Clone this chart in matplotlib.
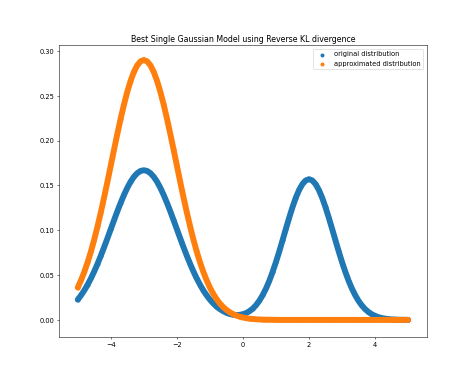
import numpy as np
import matplotlib
matplotlib.use('Agg')
import matplotlib.pyplot as plt

# x grid of the sampled points
x_vals = np.linspace(-5, 5, 101)

# original distribution (two bumps)
original = [
    0.0226, 0.0275, 0.0330, 0.0394, 0.0464, 0.0542, 0.0627, 0.0717, 0.0813, 0.0912,
    0.1013, 0.1114, 0.1213, 0.1307, 0.1395, 0.1474, 0.1542, 0.1597, 0.1637, 0.1662,
    0.1670, 0.1662, 0.1637, 0.1597, 0.1542, 0.1474, 0.1395, 0.1307, 0.1213, 0.1114,
    0.1013, 0.0912, 0.0813, 0.0717, 0.0627, 0.0542, 0.0464, 0.0394, 0.0330, 0.0275,
    0.0226, 0.0185, 0.0149, 0.0121, 0.0098, 0.0079, 0.0066, 0.0058, 0.0054, 0.0056,
    0.0064, 0.0077, 0.0098, 0.0127, 0.0166, 0.0216, 0.0278, 0.0351, 0.0437, 0.0537,
    0.0646, 0.0764, 0.0889, 0.1016, 0.1140, 0.1257, 0.1362, 0.1449, 0.1515, 0.1556,
    0.1570, 0.1556, 0.1515, 0.1449, 0.1362, 0.1257, 0.1140, 0.1016, 0.0889, 0.0764,
    0.0645, 0.0536, 0.0436, 0.0349, 0.0275, 0.0212, 0.0161, 0.0120, 0.0088, 0.0063,
    0.0045, 0.0031, 0.0021, 0.0014, 0.0009, 0.0006, 0.0004, 0.0002, 0.0001, 0.0001,
    0.0000,
]

# single gaussian fitted with reverse KL
approximated = [
    0.0361, 0.0443, 0.0537, 0.0644, 0.0764, 0.0898, 0.1045, 0.1203, 0.1370, 0.1544,
    0.1723, 0.1902, 0.2078, 0.2247, 0.2404, 0.2546, 0.2668, 0.2767, 0.2840, 0.2885,
    0.2900, 0.2885, 0.2840, 0.2767, 0.2668, 0.2546, 0.2404, 0.2247, 0.2078, 0.1902,
    0.1723, 0.1544, 0.1370, 0.1203, 0.1045, 0.0898, 0.0764, 0.0644, 0.0537, 0.0443,
    0.0361, 0.0292, 0.0233, 0.0184, 0.0144, 0.0112, 0.0086, 0.0065, 0.0049, 0.0036,
    0.0027, 0.0019, 0.0014, 0.0010, 0.0007, 0.0005, 0.0003, 0.0002, 0.0002, 0.0001,
    0.0001, 0.0, 0.0, 0.0, 0.0, 0.0, 0.0, 0.0, 0.0, 0.0,
    0.0, 0.0, 0.0, 0.0, 0.0, 0.0, 0.0, 0.0, 0.0, 0.0,
    0.0, 0.0, 0.0, 0.0, 0.0, 0.0, 0.0, 0.0, 0.0, 0.0,
    0.0, 0.0, 0.0, 0.0, 0.0, 0.0, 0.0, 0.0, 0.0, 0.0,
    0.0,
]

fig, ax = plt.subplots(figsize=(10, 8), dpi=47.4)

# thick lines under the points so the dense scatter looks continuous
ax.plot(x_vals, original, color='#1f77b4', lw=9, solid_capstyle='round', solid_joinstyle='round')
ax.scatter(x_vals, original, color='#1f77b4', linewidths=0, label='original distribution')
ax.plot(x_vals, approximated, color='#ff7f0e', lw=9, solid_capstyle='round', solid_joinstyle='round')
ax.scatter(x_vals, approximated, color='#ff7f0e', linewidths=0, label='approximated distribution')

ax.set_xlim(-5.56, 5.56)
ax.set_ylim(-0.0194, 0.3064)
ax.set_title('Best Single Gaussian Model using Reverse KL divergence')
ax.legend(loc='upper right')

fig.savefig('out.png', dpi=47.4)
